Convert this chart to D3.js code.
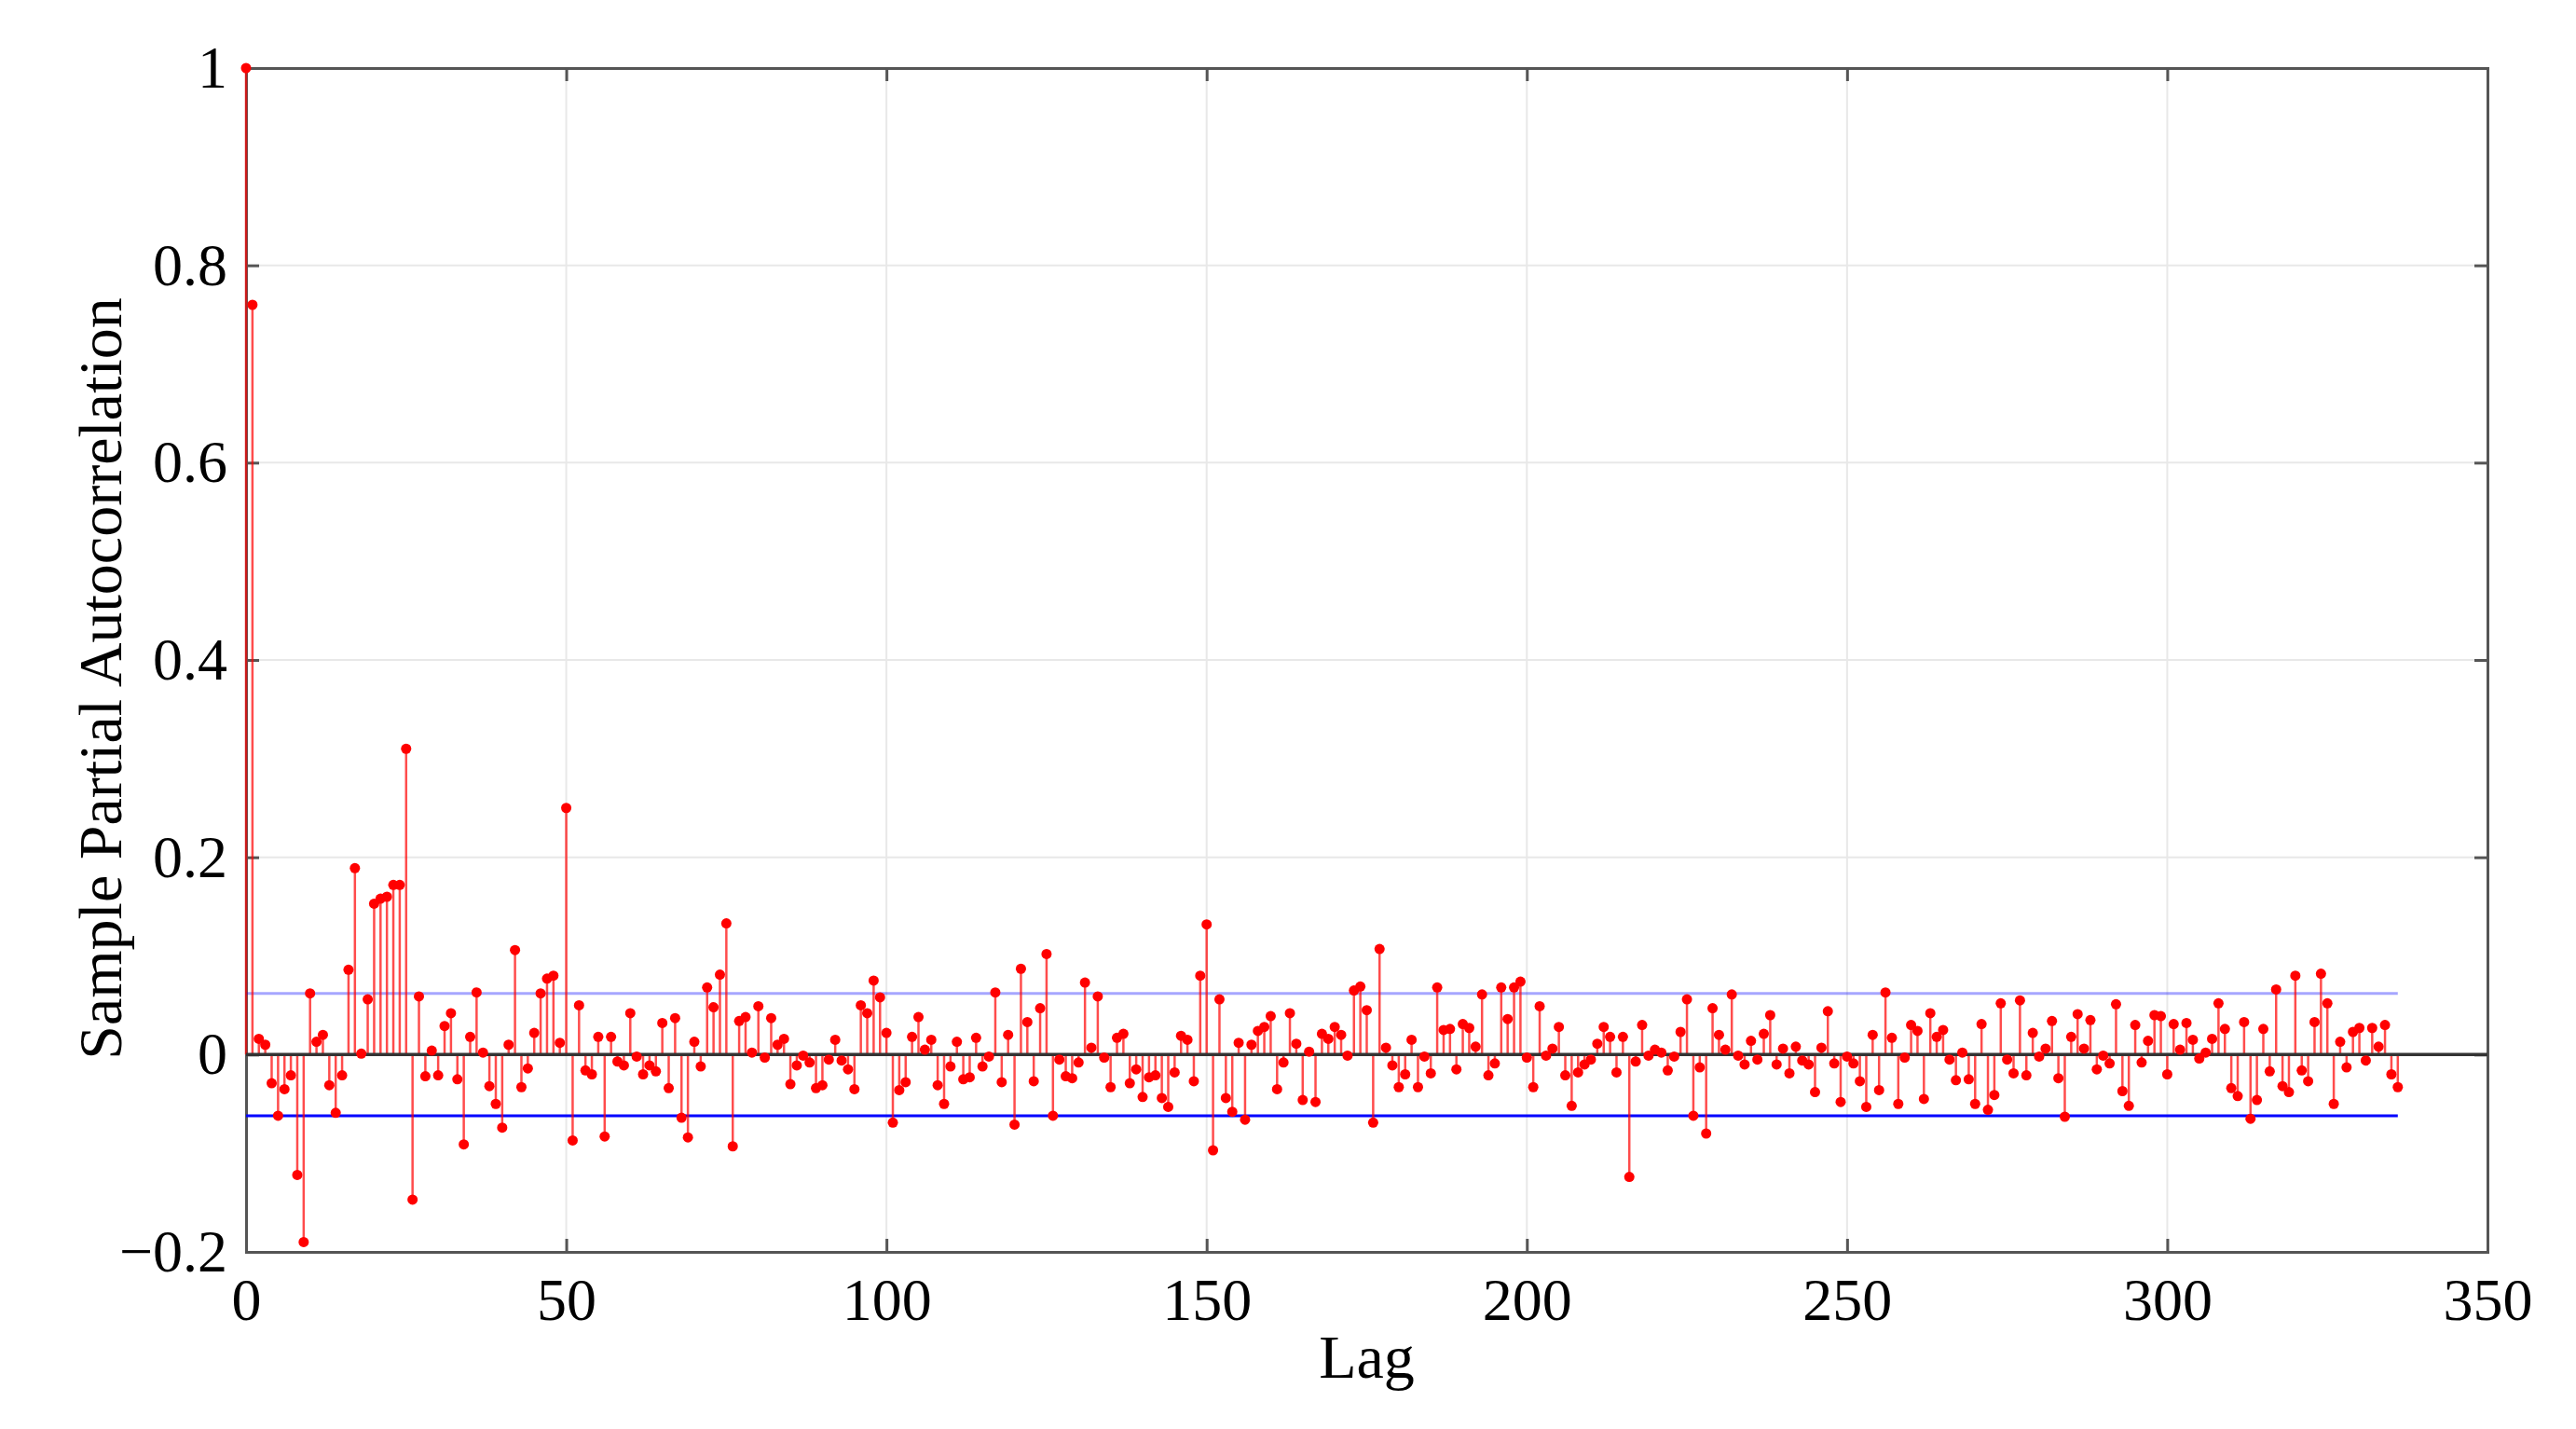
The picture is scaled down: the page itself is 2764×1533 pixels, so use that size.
<!DOCTYPE html>
<html><head><meta charset="utf-8">
<script src="https://cdn.jsdelivr.net/npm/d3@7"></script>
<style>body{margin:0;background:#fff}</style>
</head><body>
<script>
const pacf = [1,0.76,
0.016,0.010,-0.029,-0.062,-0.035,-0.021,-0.122,-0.19,0.062,0.013,0.020,-0.031,-0.059,-0.021,0.086,0.189,0.001,0.056,0.153,0.158,0.160,0.172,0.172,0.31,-0.147,0.059,-0.022,0.004,-0.021,0.029,0.042,-0.025,-0.091,0.018,0.063,0.002,-0.032,-0.050,-0.074,0.010,0.106,-0.033,-0.014,0.022,0.062,0.077,0.080,0.012,0.25,
-0.087,0.050,-0.016,-0.020,0.018,-0.083,0.018,-0.007,-0.011,0.042,
-0.002,-0.020,-0.011,-0.017,0.032,-0.034,0.037,-0.064,-0.084,0.013,-0.012,0.068,0.048,0.081,0.133,-0.093,0.034,0.038,0.002,0.049,-0.003,0.037,0.010,0.016,-0.030,-0.011,-0.001,-0.008,-0.034,-0.031,-0.005,0.015,-0.006,-0.015,-0.035,0.050,0.042,0.075,0.058,0.022,
-0.069,-0.036,-0.028,0.018,0.038,0.005,0.015,-0.031,-0.050,-0.012,0.013,-0.025,-0.023,0.017,-0.012,-0.002,0.063,-0.028,0.020,-0.071,
0.087,0.033,-0.027,0.047,0.102,-0.062,-0.005,-0.022,-0.024,-0.008,0.073,0.007,0.059,-0.003,-0.033,0.017,0.021,-0.029,-0.015,-0.043,-0.023,-0.021,-0.044,-0.053,-0.018,0.019,0.015,-0.027,0.080,0.132,
-0.097,0.056,-0.044,-0.058,0.012,-0.066,0.010,0.024,0.028,0.039,-0.035,-0.008,0.042,0.011,-0.046,0.003,-0.048,0.021,0.016,0.028,0.020,-0.001,0.065,0.069,0.045,-0.069,0.107,0.007,-0.011,-0.033,
-0.020,0.015,-0.033,-0.002,-0.019,0.068,0.025,0.026,-0.015,0.031,0.027,0.008,0.061,-0.021,-0.009,0.068,0.036,0.068,0.074,-0.003,
-0.033,0.049,-0.001,0.006,0.028,-0.021,-0.052,-0.018,-0.010,-0.005,0.011,0.028,0.018,-0.018,0.018,-0.124,-0.007,0.030,-0.001,0.005,0.002,-0.016,-0.002,0.023,0.056,-0.062,-0.013,-0.080,0.047,0.020,0.005,0.061,-0.001,-0.010,0.014,-0.005,0.021,0.040,-0.010,0.006,
-0.019,0.008,-0.006,-0.010,-0.038,0.007,0.044,-0.009,-0.048,-0.002,-0.009,-0.027,-0.053,0.020,-0.036,0.063,0.017,-0.050,-0.003,0.030,0.024,-0.045,0.042,0.018,0.025,-0.005,-0.026,0.002,-0.025,-0.050,0.031,-0.056,-0.041,0.052,-0.005,-0.019,0.055,-0.021,0.022,-0.002,0.006,0.034,-0.024,-0.063,0.018,0.041,0.006,0.035,-0.015,-0.001,-0.009,0.051,-0.037,-0.052,0.030,-0.008,0.014,0.040,0.039,-0.020,
0.031,0.005,0.032,0.015,-0.004,0.002,0.016,0.052,0.026,-0.034,-0.042,0.033,-0.065,-0.046,0.026,-0.017,0.066,-0.032,-0.038,0.080,-0.016,-0.027,0.033,0.082,0.052,-0.050,0.013,-0.013,0.023,0.027,-0.006,0.027,0.008,0.030,-0.020,-0.033];
const lags = pacf.map((_, i) => i);
const bound = 0.062;
const xTicks = [0,50,100,150,200,250,300,350];
const yTicks = [-0.2,0,0.2,0.4,0.6,0.8,1];
const yTickLabels = ["\u22120.2","0","0.2","0.4","0.6","0.8","1"];

const W = 2764, H = 1533;
const m = {l:264, r:W-2669, t:73, b:H-1343};
const svg = d3.select("body").append("svg").attr("width", W).attr("height", H);
const x = d3.scaleLinear().domain([0,350]).range([m.l, W-m.r]);
const y = d3.scaleLinear().domain([-0.2,1]).range([H-m.b, m.t]);
const font = "'Liberation Serif','Times New Roman',serif";

svg.append("g").selectAll("line").data(xTicks).join("line")
  .attr("x1", d=>x(d)).attr("x2", d=>x(d)).attr("y1", y(-0.2)).attr("y2", y(1))
  .attr("stroke", "#e8e8e8").attr("stroke-width", 2);
svg.append("g").selectAll("line").data(yTicks).join("line")
  .attr("y1", d=>y(d)).attr("y2", d=>y(d)).attr("x1", x(0)).attr("x2", x(350))
  .attr("stroke", "#e8e8e8").attr("stroke-width", 2);

svg.append("g").attr("transform", `translate(0,${y(-0.2)})`)
  .call(d3.axisBottom(x).tickValues(xTicks).tickSize(-14).tickPadding(28).tickFormat(d3.format("d")));
svg.append("g").attr("transform", `translate(${x(0)},0)`)
  .call(d3.axisLeft(y).tickValues(yTicks).tickSize(-14).tickPadding(20).tickFormat((d,i)=>yTickLabels[i]));
svg.append("g").attr("transform", `translate(${x(350)},0)`)
  .call(d3.axisRight(y).tickValues(yTicks).tickSize(-14).tickFormat(""));
svg.append("g").attr("transform", `translate(0,${y(1)})`)
  .call(d3.axisTop(x).tickValues(xTicks).tickSize(-14).tickFormat(""));
svg.selectAll(".domain").attr("stroke", "#555").attr("stroke-width", 3);
svg.selectAll(".tick line").attr("stroke", "#555").attr("stroke-width", 3);
svg.selectAll(".tick text").attr("font-family", font).attr("font-size", 64).attr("fill", "#000");

svg.append("line").attr("x1", x(0)).attr("x2", x(lags[lags.length-1]))
  .attr("y1", y(bound)).attr("y2", y(bound)).attr("stroke", "#0000ff").attr("stroke-opacity", 0.35).attr("stroke-width", 3);
svg.append("line").attr("x1", x(0)).attr("x2", x(lags[lags.length-1]))
  .attr("y1", y(-bound)).attr("y2", y(-bound)).attr("stroke", "#0000ff").attr("stroke-width", 3);

svg.append("g").selectAll("line").data(pacf).join("line")
  .attr("x1", (d,i)=>x(lags[i])).attr("x2", (d,i)=>x(lags[i]))
  .attr("y1", y(0)).attr("y2", d=>y(d))
  .attr("stroke", "#ff0000").attr("stroke-opacity", 0.7).attr("stroke-width", 2.5);
svg.append("line").attr("x1", x(0)).attr("x2", x(350)).attr("y1", y(0)).attr("y2", y(0))
  .attr("stroke", "#333").attr("stroke-width", 3.5);
svg.append("g").selectAll("circle").data(pacf).join("circle")
  .attr("cx", (d,i)=>x(lags[i])).attr("cy", d=>y(d)).attr("r", 5.5).attr("fill", "#ff0000");

svg.append("text").attr("x", (x(0)+x(350))/2).attr("y", 1478).attr("text-anchor", "middle")
  .attr("font-family", font).attr("font-size", 66).text("Lag");
svg.append("text").attr("transform", `translate(130,${(y(1)+y(-0.2))/2+20}) rotate(-90)`)
  .attr("text-anchor", "middle").attr("font-family", font).attr("font-size", 66).text("Sample Partial Autocorrelation");
</script>
</body></html>
